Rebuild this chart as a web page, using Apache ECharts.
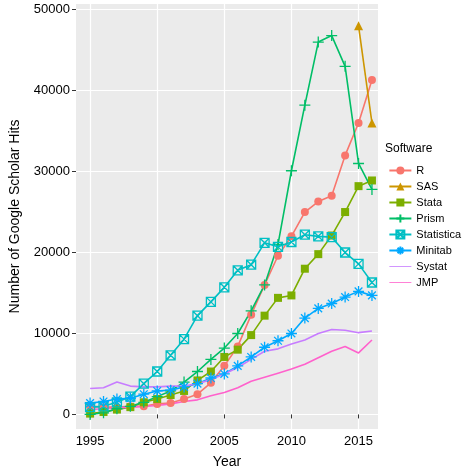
<!DOCTYPE html>
<html>
<head>
<meta charset="utf-8">
<script src="https://cdn.jsdelivr.net/npm/echarts@6/dist/echarts.min.js"></script>
<style>html,body{margin:0;padding:0;background:#fff}#main{width:474px;height:474px}</style>
</head>
<body>
<div id="main"></div>
<script>
const years = [1995,1996,1997,1998,1999,2000,2001,2002,2003,2004,2005,2006,2007,2008,2009,2010,2011,2012,2013,2014,2015,2016];
const rHits = [1000,900,900,1000,1000,1300,1400,1900,2500,3900,6000,8400,12300,16000,19600,22000,25000,26300,27000,32000,36000,41300];
const sasHits = [null,null,null,null,null,null,null,null,null,null,null,null,null,null,null,null,null,null,null,null,48000,36000];
const stataHits = [100,300,600,900,1500,1900,2400,2900,4200,5300,7100,8000,9800,12200,14400,14700,18000,19800,22100,25000,28200,28900];
const prismHits = [0,200,700,1000,1500,2200,2900,4000,5300,6800,8200,10000,12800,16000,21000,30100,38200,46000,46800,43000,31000,27800];
const statisticaHits = [900,1000,1500,2200,3800,5300,7300,9300,12200,13900,15700,17800,18500,21200,20700,21300,22200,22000,21900,20000,18600,16300];
const minitabHits = [1400,1600,1900,2000,2500,2900,3000,3400,3800,4500,5000,6000,7100,8300,9100,10000,11900,13100,13700,14500,15200,14700];
const systatHits = [3200,3300,4000,3500,3400,3400,3500,3500,3800,4300,5000,5800,6800,7800,8100,8700,9200,10000,10500,10400,10100,10300];
const jmpHits = [600,700,800,900,1000,1100,1300,1600,1800,2300,2700,3300,4100,4600,5100,5600,6200,7000,7800,8400,7600,9200];
const xTicks = [1995,2000,2005,2010,2015];
const yTicks = [0,10000,20000,30000,40000,50000];

const software = [
  {name:'R', data:rHits, color:'#F8766D', symbol:'circle', size:8, filled:true},
  {name:'SAS', data:sasHits, color:'#CD9600', symbol:'triangle', size:9, filled:true},
  {name:'Stata', data:stataHits, color:'#7CAE00', symbol:'rect', size:8, filled:true},
  {name:'Prism', data:prismHits, color:'#00BE67', symbol:'path://M5,0L5,10M0,5L10,5', size:11, filled:false},
  {name:'Statistica', data:statisticaHits, color:'#00BFC4', symbol:'path://M0,0L10,0L10,10L0,10Z M0,0L10,10 M10,0L0,10', size:9, filled:false},
  {name:'Minitab', data:minitabHits, color:'#00A9FF', symbol:'path://M5,0L5,10M0,5L10,5M1.5,1.5L8.5,8.5M8.5,1.5L1.5,8.5', size:11, filled:false},
  {name:'Systat', data:systatHits, color:'#C77CFF', symbol:'none', size:0, filled:true},
  {name:'JMP', data:jmpHits, color:'#FF61CC', symbol:'none', size:0, filled:true}
];

const chart = echarts.init(document.getElementById('main'));

const series = software.map(s => ({
  name: s.name,
  type: 'line',
  data: years.map((y, i) => [y, s.data[i]]),
  connectNulls: false,
  symbol: s.symbol,
  symbolSize: s.size,
  showSymbol: s.symbol !== 'none',
  lineStyle: {color: s.color, width: 1.6},
  itemStyle: s.filled ? {color: s.color} : {color: 'rgba(0,0,0,0)', borderColor: s.color, borderWidth: 1.3},
  emphasis: {disabled: true},
  animation: false
}));

const option = {
  textStyle: {fontFamily: 'Liberation Sans, Arial, sans-serif'},
  grid: {left: 70, right: 96, top: 4, bottom: 44, show: true, backgroundColor: '#EBEBEB', borderWidth: 0},
  xAxis: {
    type: 'value', min: 1993.95, max: 2016.45,
    name: 'Year', nameLocation: 'middle', nameGap: 26,
    nameTextStyle: {fontSize: 14, color: '#000'},
    axisLine: {show: false},
    axisTick: {show: true, customValues: xTicks, length: 4, lineStyle: {color: '#333'}},
    axisLabel: {customValues: xTicks, fontSize: 13, color: '#000', margin: 6, formatter: v => String(v)},
    splitLine: {show: true, lineStyle: {color: '#fff', width: 1.2}}
  },
  yAxis: {
    type: 'value', min: -1800, max: 50700,
    name: 'Number of Google Scholar Hits', nameLocation: 'middle', nameGap: 54,
    nameTextStyle: {fontSize: 14, color: '#000'},
    axisLine: {show: false},
    axisTick: {show: true, customValues: yTicks, length: 4, lineStyle: {color: '#333'}},
    axisLabel: {customValues: yTicks, fontSize: 13, color: '#000', margin: 6, formatter: v => String(v)},
    splitLine: {show: true, lineStyle: {color: '#fff', width: 1.2}}
  },
  legend: {
    orient: 'vertical', right: 8, top: 160,
    itemWidth: 22, itemHeight: 10, itemGap: 5,
    textStyle: {fontSize: 11, color: '#000'},
    data: software.map(s => s.symbol === 'none'
      ? {name: s.name, icon: 'path://M0,4.6L22,4.6L22,5.4L0,5.4Z', itemStyle: {color: s.color}}
      : s.name)
  },
  graphic: [{type: 'text', left: 385, top: 143, style: {text: 'Software', fontSize: 12, fill: '#000'}}],
  series: series
};

chart.setOption(option);
</script>
</body>
</html>
